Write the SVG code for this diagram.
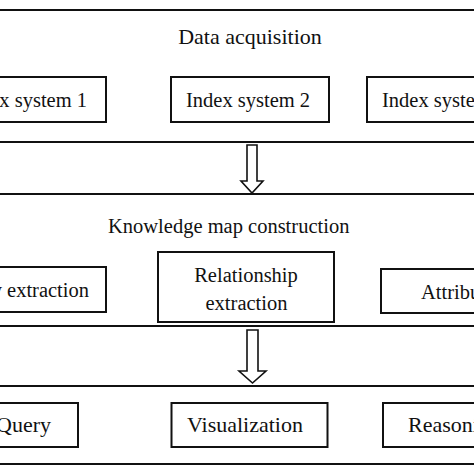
<svg xmlns="http://www.w3.org/2000/svg" width="474" height="474" viewBox="0 0 474 474">
<style>
.bg{fill:#fff}
.sep{stroke:#111;stroke-width:2;fill:none}
.box{fill:#fff;stroke:#111;stroke-width:2}
.t{font-family:"Liberation Serif","Times New Roman",serif;font-size:20.5px;fill:#111}
.h{font-size:22px}
.arrow{fill:#fff;stroke:#111;stroke-width:1.6;stroke-linejoin:miter}
</style>
<rect class="bg" x="0" y="0" width="474" height="474"/>
<g id="sections">
<line class="sep" x1="0" y1="10" x2="474" y2="10"/>
<line class="sep" x1="0" y1="142" x2="474" y2="142"/>
<line class="sep" x1="0" y1="194" x2="474" y2="194"/>
<line class="sep" x1="0" y1="326" x2="474" y2="326"/>
<line class="sep" x1="0" y1="386" x2="474" y2="386"/>
<line class="sep" x1="0" y1="464" x2="474" y2="464"/>
</g>
<g id="title-data"><text class="t h" x="250" y="44" text-anchor="middle">Data acquisition</text></g>
<g id="index1"><rect class="box" x="-52" y="77" width="158" height="45"/><text class="t" x="87" y="107" text-anchor="end">Index system 1</text></g>
<g id="index2"><rect class="box" x="171" y="77" width="158" height="45"/><text class="t" x="186" y="107">Index system 2</text></g>
<g id="index3"><rect class="box" x="367" y="77" width="158" height="45"/><text class="t" x="382" y="107">Index system 3</text></g>
<g id="title-km"><text class="t" x="108" y="233">Knowledge map construction</text></g>
<g id="entity"><rect class="box" x="-80" y="267" width="186" height="45"/><text class="t" x="89" y="297" text-anchor="end">Entity extraction</text></g>
<g id="relationship"><rect class="box" x="158" y="252" width="176" height="70"/><text class="t" x="246" y="282" text-anchor="middle">Relationship</text><text class="t" x="246.5" y="310" text-anchor="middle">extraction</text></g>
<g id="attribute"><rect class="box" x="381" y="269" width="200" height="44"/><text class="t" x="421" y="299">Attribute extraction</text></g>
<g id="query"><rect class="box" x="-80" y="403" width="158" height="44"/><text class="t h" x="51" y="432" text-anchor="end">Query</text></g>
<g id="visualization"><rect class="box" x="171.5" y="403" width="156" height="44"/><text class="t h" x="187" y="432">Visualization</text></g>
<g id="reasoning"><rect class="box" x="383" y="403" width="158" height="44"/><text class="t h" x="408" y="432">Reasoning</text></g>
<g id="connectors">
<polygon class="arrow" points="247,145 257,145 257,181 263,181 252,193 241,181 247,181"/>
<polygon class="arrow" points="247,330 258,330 258,371 266,371 252.5,383 239,371 247,371"/>
</g>
</svg>
